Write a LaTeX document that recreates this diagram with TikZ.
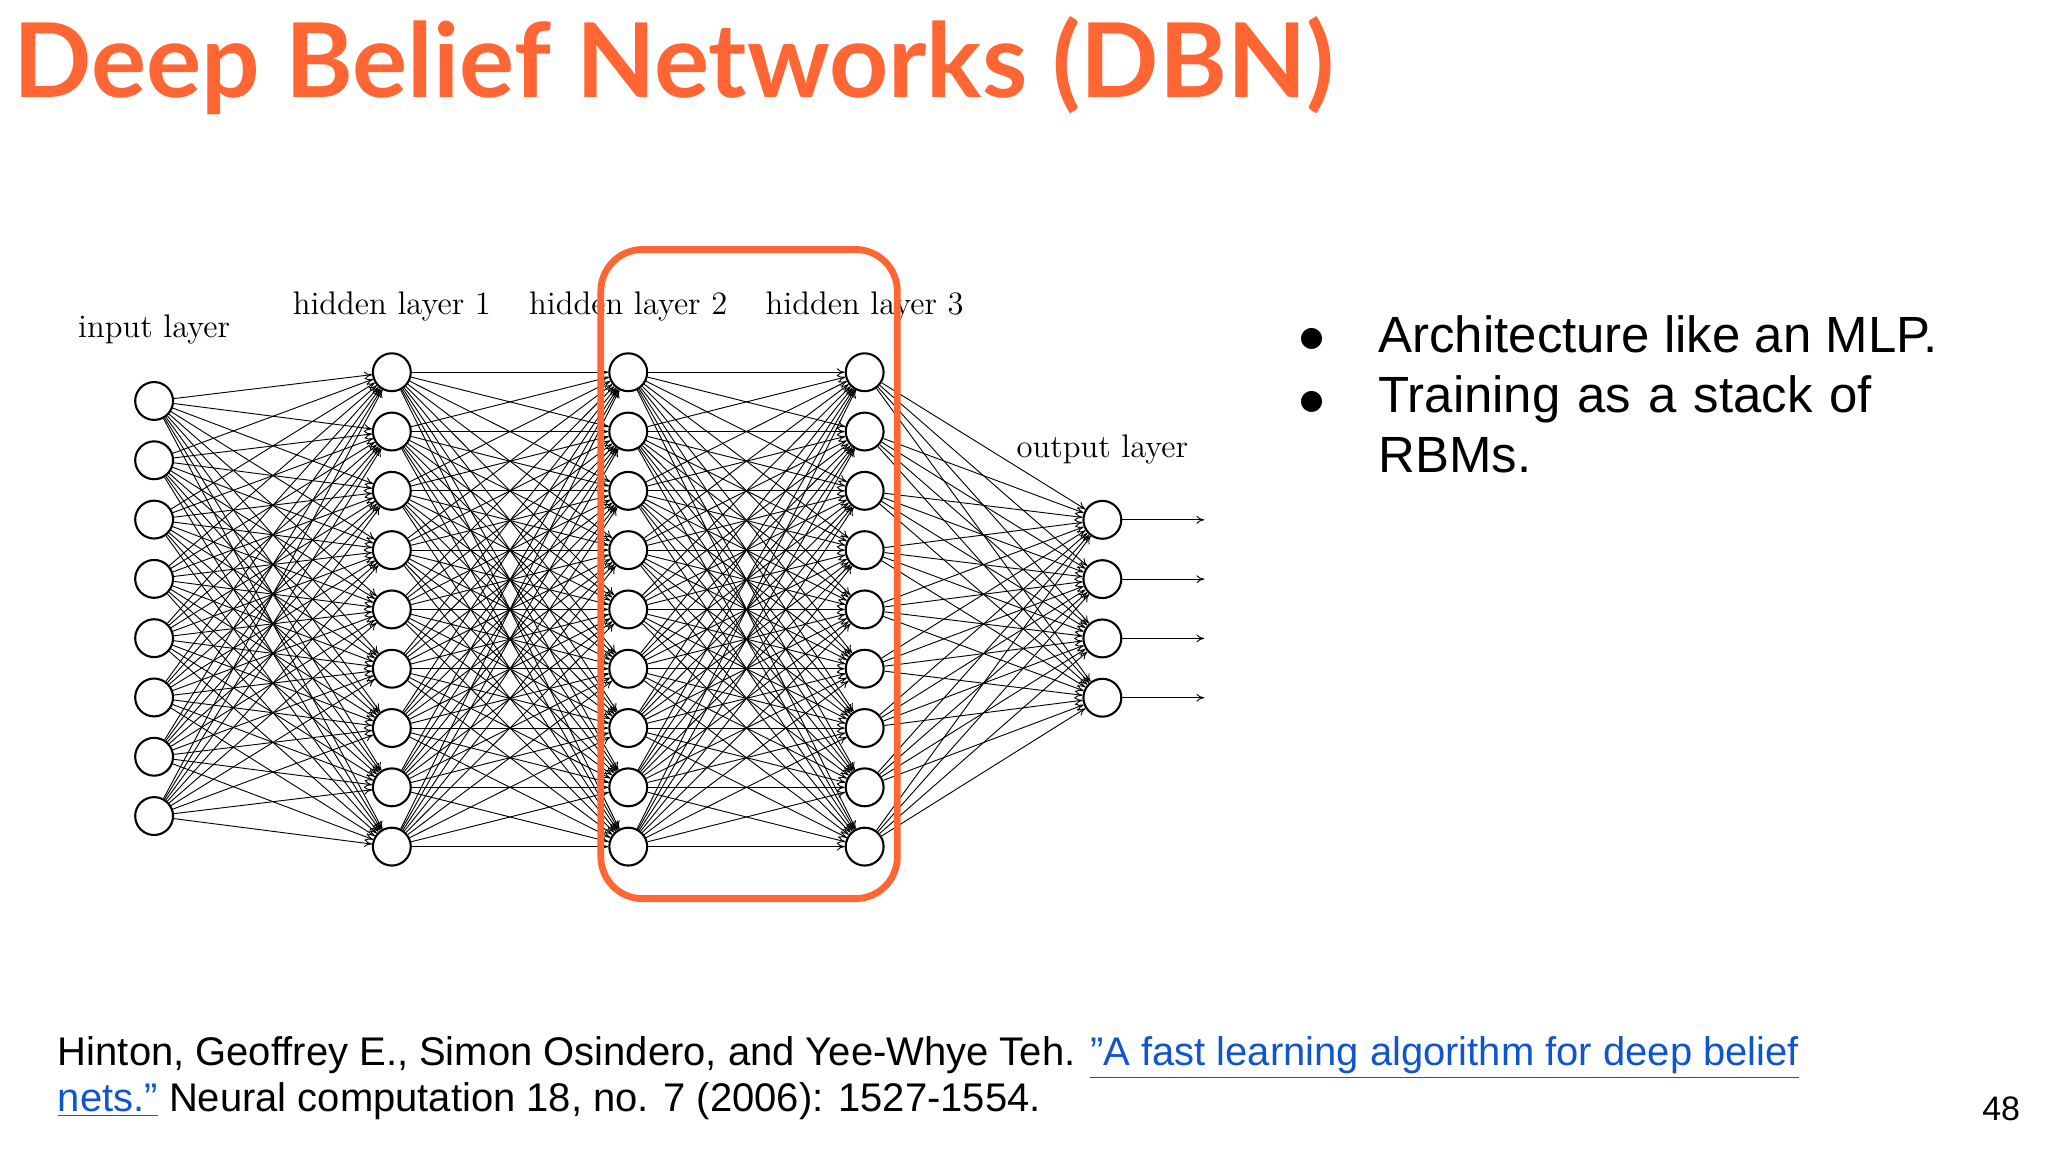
\documentclass[tikz,border=0pt]{standalone}
\usepackage{fontspec}
\setmainfont{Liberation Sans}
\newfontfamily\lato{Lato}
\newfontfamily\lmr{Latin Modern Roman}
\usetikzlibrary{arrows.meta}
\definecolor{dbnorange}{HTML}{FF6633}
\definecolor{linkblue}{HTML}{1155CC}
\begin{document}
\begin{tikzpicture}[x=0.5pt,y=-0.5pt,
  neuron/.style={circle,draw,thick,fill=white,minimum size=14.5pt,inner sep=0pt},
  conn/.style={-{To[length=3pt,width=3pt]},line width=0.35pt},
  lab/.style={font=\lmr\fontsize{12.5}{14}\selectfont},
  bul/.style={font=\fontsize{19.5}{24}\selectfont,anchor=base west,inner sep=0pt}]
\useasboundingbox (0,0) rectangle (1568,882);
% labels
\node[lab] (li) at (118,252) {input layer};
\node[lab] (l1) at (300,235) {hidden layer 1};
\node[lab] (l2) at (481,235) {hidden layer 2};
\node[lab] (l3) at (662,235) {hidden layer 3};
\node[lab] (lo) at (844,344) {output layer};
% neurons
\foreach \k in {1,...,8} \node[neuron] (i\k) at (118,{307+(\k-1)*45.4}) {};
\foreach \L/\x in {a/300,b/481,c/662}
  \foreach \k in {1,...,9} \node[neuron] (\L\k) at (\x,{285+(\k-1)*45.4}) {};
\foreach \k in {1,...,4} \node[neuron] (o\k) at (844,{398+(\k-1)*45.4}) {};
% connections
\foreach \s in {1,...,8} \foreach \t in {1,...,9} \draw[conn] (i\s) -- (a\t);
\foreach \s in {1,...,9} \foreach \t in {1,...,9} {\draw[conn] (a\s) -- (b\t); \draw[conn] (b\s) -- (c\t);}
\foreach \s in {1,...,9} \foreach \t in {1,...,4} \draw[conn] (c\s) -- (o\t);
\foreach \k in {1,...,4} {\coordinate (e\k) at (922,{398+(\k-1)*45.4}); \draw[conn] (o\k) -- (e\k);}
% orange box
\draw[dbnorange,line width=2.6pt,rounded corners=16pt] (460,191) rectangle (687,688);
% title
\node[anchor=base west,inner sep=0pt,text=dbnorange,font=\lato\bfseries\fontsize{39.5}{44}\selectfont] (title) at (10,75) {Deep Belief Networks (DBN)};
% bullets
\node[bul] (d1) at (994,270) {$\bullet$};
\node[bul] (t1) at (1055,270) {Architecture like an MLP.};
\node[bul] (d2) at (994,318) {$\bullet$};
\node[bul,align=left,text width=250pt,anchor=north west] (t2) at (1055,287) {Training as a stack of\\[-1pt] RBMs.};
% citation
\node[anchor=base west,inner sep=0pt,font=\fontsize{15.3}{17.5}\selectfont,align=left] (cit) at (44,851) {Hinton, Geoffrey E., Simon Osindero, and Yee-Whye Teh. {\color{linkblue}\underline{\symbol{34}A fast learning algorithm for deep belief}}\\{\color{linkblue}\underline{nets.\symbol{34}}} Neural computation 18, no. 7 (2006): 1527-1554.};
\node[anchor=base east,inner sep=0pt,font=\fontsize{13}{15}\selectfont] (pg) at (1547,858) {48};
\end{tikzpicture}
\end{document}
